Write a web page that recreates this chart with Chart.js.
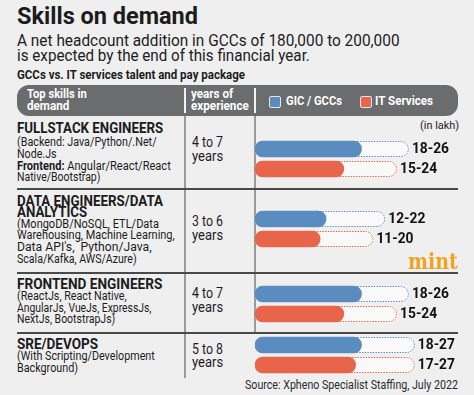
<!DOCTYPE html>
<html>
<head>
<meta charset="utf-8">
<script src="https://cdn.jsdelivr.net/npm/chart.js@4.4.0/dist/chart.umd.min.js"></script>
<style>
  body { margin: 0; background: #efeff0; }
  #wrap { position: relative; width: 474px; height: 395px; overflow: hidden; background: #efeff0; font-family: Roboto, "Open Sans", sans-serif; color: #1c1c1c; }
  .t { position: absolute; white-space: nowrap; }
  .ln { position: absolute; }
  #head { position: absolute; left: 17px; top: 85px; width: 441px; height: 31px; background: #6b6c6e; border-radius: 12px; }
  .sw { position: absolute; top: 96px; width: 10px; height: 10px; border: 1px solid #e8e8e8; border-radius: 2px; }
  canvas { position: absolute; left: 255px; }
</style>
</head>
<body>
<div id="wrap">
  <div id="head"></div>
  <div class="ln" style="left:184px;top:88px;width:2px;height:25px;background:#f2f2f2"></div>
  <div class="ln" style="left:254px;top:88px;width:2px;height:25px;background:#f2f2f2"></div>
  <div class="sw" id="sw0" style="left:269px"></div>
  <div class="sw" id="sw1" style="left:360px"></div>

  <div class="ln" style="left:184px;top:116px;width:2px;height:262px;background:#9a9a9a"></div>
  <div class="ln" style="left:254px;top:116px;width:2px;height:217px;background:#9a9a9a"></div>
  <div class="ln" style="left:17px;top:188px;width:441px;height:1.5px;background:#4a4a4a"></div>
  <div class="ln" style="left:17px;top:272px;width:441px;height:1.5px;background:#4a4a4a"></div>
  <div class="ln" style="left:17px;top:332px;width:441px;height:1.5px;background:#4a4a4a"></div>

  <canvas id="row0" width="219" height="40" style="top:139px"></canvas>
  <canvas id="row1" width="219" height="40" style="top:209px"></canvas>
  <canvas id="row2" width="219" height="40" style="top:284px"></canvas>
  <canvas id="row3" width="219" height="40" style="top:335px"></canvas>
</div>
<script>
// pay package ranges, in lakh
const series = ['GIC / GCCs', 'IT Services'];
const gccMin = [18, 12, 18, 18];
const gccMax = [26, 22, 26, 27];
const itMin = [15, 11, 15, 17];
const itMax = [24, 20, 24, 27];

const colors = ['#5b8cc0', '#e8644a'];
const wrap = document.getElementById('wrap');

// text lines: [html, x, baseline, size, weight, width, align, color, family]
const lines = [
  ['Skills on demand', 17, 25, 24, 700, 181],
  ['A net headcount addition in GCCs of 180,000 to 200,000', 17, 47, 17, 400, 383],
  ['is expected by the end of this financial year.', 17, 62, 17, 400, 293],
  ['GCCs vs. IT services talent and pay package', 17, 80, 12, 700, 228],
  ['Top skills in', 27, 98.3, 12.5, 700, 60, 'l', '#fff'],
  ['demand', 27, 110.5, 12.5, 700, 42, 'l', '#fff'],
  ['years of', 191, 98.3, 12.5, 700, 42, 'l', '#fff'],
  ['experience', 191, 110.5, 12.5, 700, 58, 'l', '#fff'],
  [series[0], 286, 106, 13, 700, 56, 'l', '#fff'],
  [series[1], 375, 106, 13, 700, 58, 'l', '#fff'],
  ['(in lakh)', 459, 129.5, 11.5, 400, 39, 'r'],

  ['FULLSTACK ENGINEERS', 17, 132.7, 15, 700, 146],
  ['(Backend: Java/Python/.Net/', 17, 146.7, 12, 400, 140],
  ['Node.Js', 17, 158.5, 12, 400, 40],
  ['<b>Frontend:</b> Angular/React/React', 17, 170.5, 12, 400, 154],
  ['Native/Bootstrap)', 17, 182.3, 12, 400, 83],
  ['4 to 7', 192, 147.7, 15.5, 400, 31],
  ['years', 192, 161.7, 15.5, 400, 31],

  ['DATA ENGINEERS/DATA', 17, 206, 15, 700, 146],
  ['ANALYTICS', 17, 217.3, 15, 700, 70],
  ['(MongoDB/NoSQL, ETL/Data', 17, 228.5, 12, 400, 142],
  ['Warehousing, Machine Learning,', 17, 240.3, 12, 400, 158],
  ['Data API\'s,&nbsp; Python/Java,', 17, 252.3, 12, 400, 135],
  ['Scala/Kafka, AWS/Azure)', 17, 264.3, 12, 400, 120],
  ['3 to 6', 192, 226.7, 15.5, 400, 31],
  ['years', 192, 240.7, 15.5, 400, 31],

  ['FRONTEND ENGINEERS', 17, 289.3, 15, 700, 145],
  ['(ReactJs, React Native,', 17, 301, 12, 400, 110],
  ['AngularJs, VueJs, ExpressJs,', 17, 312.7, 12, 400, 134],
  ['NextJs, BootstrapJs)', 17, 324.3, 12, 400, 98],
  ['4 to 7', 192, 298.3, 15.5, 400, 31],
  ['years', 192, 312.3, 15.5, 400, 31],

  ['SRE/DEVOPS', 17, 349.3, 15, 700, 81],
  ['(With Scripting/Development', 17, 361, 12, 400, 138],
  ['Background)', 17, 372.7, 12, 400, 61],
  ['5 to 8', 192, 354, 15.5, 400, 31],
  ['years', 192, 367.7, 15.5, 400, 31],

  ['Source: Xpheno Specialist Staffing, July 2022', 458, 389, 12.5, 400, 213, 'r', '#2a2a2a'],
  ['mint', 458, 269, 22, 700, 50, 'r', '#f4a21e', '"DejaVu Serif", serif']
];

lines.forEach(([html, x, base, size, weight, w, align, color, family]) => {
  const el = document.createElement('div');
  const lh = size * 0.8;
  el.className = 't';
  el.innerHTML = html;
  el.style.fontSize = size + 'px';
  el.style.lineHeight = lh + 'px';
  el.style.fontWeight = weight;
  el.style.top = (base - lh / 2 - 0.3415 * size) + 'px';
  if (color) el.style.color = color;
  if (family) el.style.fontFamily = family;
  wrap.appendChild(el);
  const ow = el.offsetWidth;
  if (align === 'r') {
    el.style.left = (x - ow) + 'px';
    el.style.transformOrigin = 'right top';
  } else {
    el.style.left = x + 'px';
    el.style.transformOrigin = 'left top';
  }
  el.style.transform = `scaleX(${w / ow})`;
});

document.getElementById('sw0').style.background = colors[0];
document.getElementById('sw1').style.background = colors[1];

// dashed outline round the full range, and the range label after it
const rangeDecor = {
  id: 'rangeDecor',
  afterDatasetDraw(chart, args) {
    if (args.index !== 0) return;
    const ctx = chart.ctx;
    args.meta.data.forEach((bar, i) => {
      const { x, y, base, height } = bar.getProps(['x', 'y', 'base', 'height'], true);
      ctx.save();
      ctx.setLineDash([1.5, 1.2]);
      ctx.lineWidth = 1;
      ctx.strokeStyle = colors[i];
      ctx.beginPath();
      ctx.roundRect(base + 0.5, y - height / 2 + 0.5, x - base - 1, height - 1, height / 2);
      ctx.stroke();
      ctx.restore();
    });
  },
  afterDatasetsDraw(chart) {
    const ctx = chart.ctx;
    const meta = chart.getDatasetMeta(0);
    const lows = chart.data.datasets[1].data;
    meta.data.forEach((bar, i) => {
      const { x, y } = bar.getProps(['x', 'y'], true);
      const txt = lows[i][1] + '-' + chart.data.datasets[0].data[i][1];
      ctx.save();
      ctx.font = 'bold 15px Roboto';
      ctx.fillStyle = '#111';
      ctx.textBaseline = 'middle';
      ctx.translate(x + 3, y + 0.5);
      ctx.scale(0.92, 1);
      ctx.fillText(txt, 0, 0);
      ctx.restore();
    });
  }
};

function rowChart(id, i) {
  new Chart(document.getElementById(id), {
    type: 'bar',
    data: {
      labels: series,
      datasets: [
        {
          data: [[0, gccMax[i]], [0, itMax[i]]],
          backgroundColor: '#f9f9f9',
          borderWidth: 0,
          borderRadius: 8,
          borderSkipped: false,
          barThickness: 16,
          grouped: false,
          order: 2
        },
        {
          data: [[0, gccMin[i]], [0, itMin[i]]],
          backgroundColor: colors,
          borderWidth: 0,
          borderRadius: 8,
          borderSkipped: false,
          barThickness: 16,
          grouped: false,
          order: 1
        }
      ]
    },
    options: {
      indexAxis: 'y',
      responsive: false,
      animation: false,
      devicePixelRatio: 1,
      layout: { padding: 0 },
      scales: {
        x: { display: false, min: 0, max: 37 },
        y: { display: false }
      },
      plugins: { legend: { display: false }, tooltip: { enabled: false } }
    },
    plugins: [rangeDecor]
  });
}

['row0', 'row1', 'row2', 'row3'].forEach((id, i) => rowChart(id, i));
</script>
</body>
</html>
